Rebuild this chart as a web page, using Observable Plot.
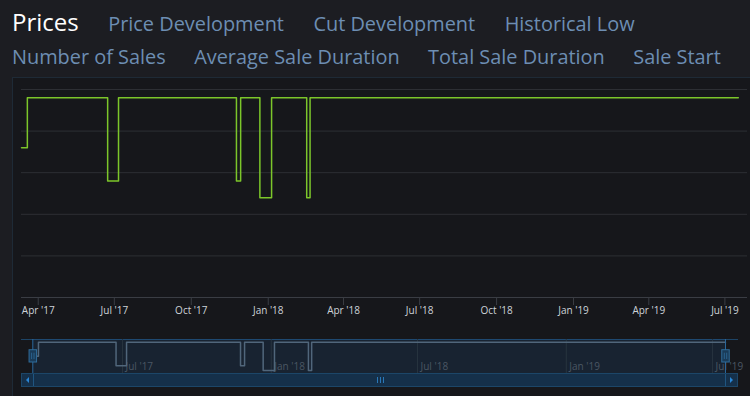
<!DOCTYPE html>
<html><head><meta charset="utf-8">
<script src="https://cdn.jsdelivr.net/npm/d3@7"></script>
<script src="https://cdn.jsdelivr.net/npm/@observablehq/plot@0.6"></script>
<style>
html,body{margin:0;padding:0;background:#1c1d22;width:750px;height:396px;overflow:hidden;font-family:"Open Sans",sans-serif;}
.row{position:absolute;left:12px;display:flex;align-items:baseline;white-space:nowrap;line-height:34px;}
#tabs1{top:5px;column-gap:29.5px;}
#tabs2{top:40px;column-gap:28.5px;}
.tab{font-size:19.9px;color:#6d8eb3;}
.tab.active{font-size:24px;color:#ffffff;}
#panel{position:absolute;left:12px;top:77px;width:745px;height:330px;background:#16171b;border-left:1px solid #1e2a36;border-top:1px solid #1e2a36;box-sizing:border-box;}
#main{position:absolute;left:12px;top:77px;}
#navbox{position:absolute;left:21px;top:339px;width:717px;height:34px;border-top:1px solid #1d4466;box-sizing:border-box;}
#nav{position:absolute;left:12px;top:339px;}
#scroll{position:absolute;left:21px;top:373px;width:717px;height:14px;background:#15304a;border:1px solid #1c4668;box-sizing:border-box;}
#thumb{position:absolute;left:11px;right:11px;top:0;bottom:0;border-left:1px solid #1f5580;border-right:1px solid #1f5580;}
#grip{position:absolute;left:50%;top:3px;width:7px;height:6px;margin-left:-3px;background:repeating-linear-gradient(90deg,#2a78b8 0 1px,transparent 1px 3px);}
.arr{position:absolute;top:3px;width:0;height:0;border-top:3px solid transparent;border-bottom:3px solid transparent;}
#arrL{left:4px;border-right:3px solid #2a86d6;}
#arrR{right:4px;border-left:3px solid #2a86d6;}
</style>
</head><body>
<div id="tabs1" class="row"></div>
<div id="tabs2" class="row"></div>
<div id="panel"></div>
<div id="main"></div>
<div id="navbox"></div>
<div id="nav"></div>
<div id="scroll"><div id="thumb"><div id="grip"></div></div><div id="arrL" class="arr"></div><div id="arrR" class="arr"></div></div>
<script>
// ---- data ----
const tabsRow1 = ["Prices", "Price Development", "Cut Development", "Historical Low"];
const tabsRow2 = ["Number of Sales", "Average Sale Duration", "Total Sale Duration", "Sale Start"];
const priceDates = ["2017-03-12","2017-03-19","2017-06-23","2017-07-06","2017-11-24","2017-11-29","2017-12-22","2018-01-05","2018-02-16","2018-02-20","2019-07-17"];
const priceValues = [36, 48, 28, 48, 28, 48, 24, 48, 24, 48, 48];
const yTicks = [0, 10, 20, 30, 40, 50];
const mainTickDates = ["2017-04-01","2017-07-01","2017-10-01","2018-01-01","2018-04-01","2018-07-01","2018-10-01","2019-01-01","2019-04-01","2019-07-01"];
const navTickDates = ["2017-07-01","2018-01-01","2018-07-01","2019-01-01","2019-07-01"];
const mainDomain = ["2017-03-12", "2019-07-28"];
const navDomain = ["2017-03-12", "2019-07-17"];

// ---- tabs ----
tabsRow1.forEach((t, i) => {
  const s = document.createElement("span");
  s.className = "tab" + (i === 0 ? " active" : "");
  s.textContent = t;
  document.getElementById("tabs1").appendChild(s);
});
tabsRow2.forEach(t => {
  const s = document.createElement("span");
  s.className = "tab";
  s.textContent = t;
  document.getElementById("tabs2").appendChild(s);
});

const parse = d3.utcParse("%Y-%m-%d");
const fmt = d3.utcFormat("%b '%y");
const data = priceDates.map((d, i) => ({date: parse(d), price: priceValues[i]}));
const mTicks = mainTickDates.map(parse);
const nTicks = navTickDates.map(parse);

const main = Plot.plot({
  width: 738, height: 248,
  marginLeft: 9, marginRight: 3, marginTop: 12, marginBottom: 28,
  style: {background: "transparent", fontFamily: "Open Sans, sans-serif", fontSize: "10px", overflow: "visible"},
  x: {type: "utc", domain: mainDomain.map(parse), axis: null},
  y: {domain: [0, 50], axis: null},
  marks: [
    Plot.ruleY(yTicks.filter(v => v > 0), {stroke: "#2d2f34", strokeWidth: 1}),
    Plot.ruleY([0], {stroke: "#3a3d44", strokeWidth: 1}),
    Plot.axisX({ticks: mTicks, tickFormat: fmt, tickSize: 8, tickPadding: 1, stroke: "#3a3d44", fill: "#cdd3d9", fontSize: 10, label: null}),
    Plot.line(data, {x: "date", y: "price", curve: "step-after", stroke: "#7cc62a", strokeWidth: 1.5})
  ]
});
document.getElementById("main").appendChild(main);

const nav = Plot.plot({
  width: 738, height: 34,
  marginLeft: 20.3, marginRight: 25, marginTop: 2.7, marginBottom: 3,
  style: {background: "transparent", fontFamily: "Open Sans, sans-serif", fontSize: "10px", overflow: "visible"},
  x: {type: "utc", domain: navDomain.map(parse), axis: null},
  y: {domain: [24, 48], axis: null},
  marks: [
    Plot.rect([0], {x1: () => parse(navDomain[0]), x2: () => parse(navDomain[1]), fill: "rgb(40,110,180)", fillOpacity: 0.15, insetTop: -2.7, insetBottom: -3}),
    Plot.ruleX(nTicks, {stroke: "#28343f", insetTop: -2.7, insetBottom: -3}),
    Plot.text(nTicks, {x: d => d, text: d => fmt(d), frameAnchor: "bottom", lineAnchor: "middle", textAnchor: "start", dx: 3, dy: -3.3, fill: "#4a5663", fontSize: 10}),
    Plot.line(data, {x: "date", y: "price", curve: "step-after", stroke: "#50667b", strokeWidth: 1.5}),
    Plot.ruleX(navDomain.map(parse), {stroke: "#2a6699", strokeWidth: 1, insetTop: -2.7, insetBottom: -3}),
    Plot.ruleX(navDomain.map(parse), {stroke: "#2f6c9a", strokeWidth: 8.5, insetTop: 7.5, insetBottom: 7.5}),
    Plot.ruleX(navDomain.map(parse), {stroke: "#1a3b58", strokeWidth: 6.5, insetTop: 8.5, insetBottom: 8.5}),
    Plot.ruleX(navDomain.map(parse), {stroke: "#2f6c9a", strokeWidth: 0.8, dx: -1.2, insetTop: 11, insetBottom: 11}),
    Plot.ruleX(navDomain.map(parse), {stroke: "#2f6c9a", strokeWidth: 0.8, dx: 1.2, insetTop: 11, insetBottom: 11})
  ]
});
document.getElementById("nav").appendChild(nav);
</script>
</body></html>
